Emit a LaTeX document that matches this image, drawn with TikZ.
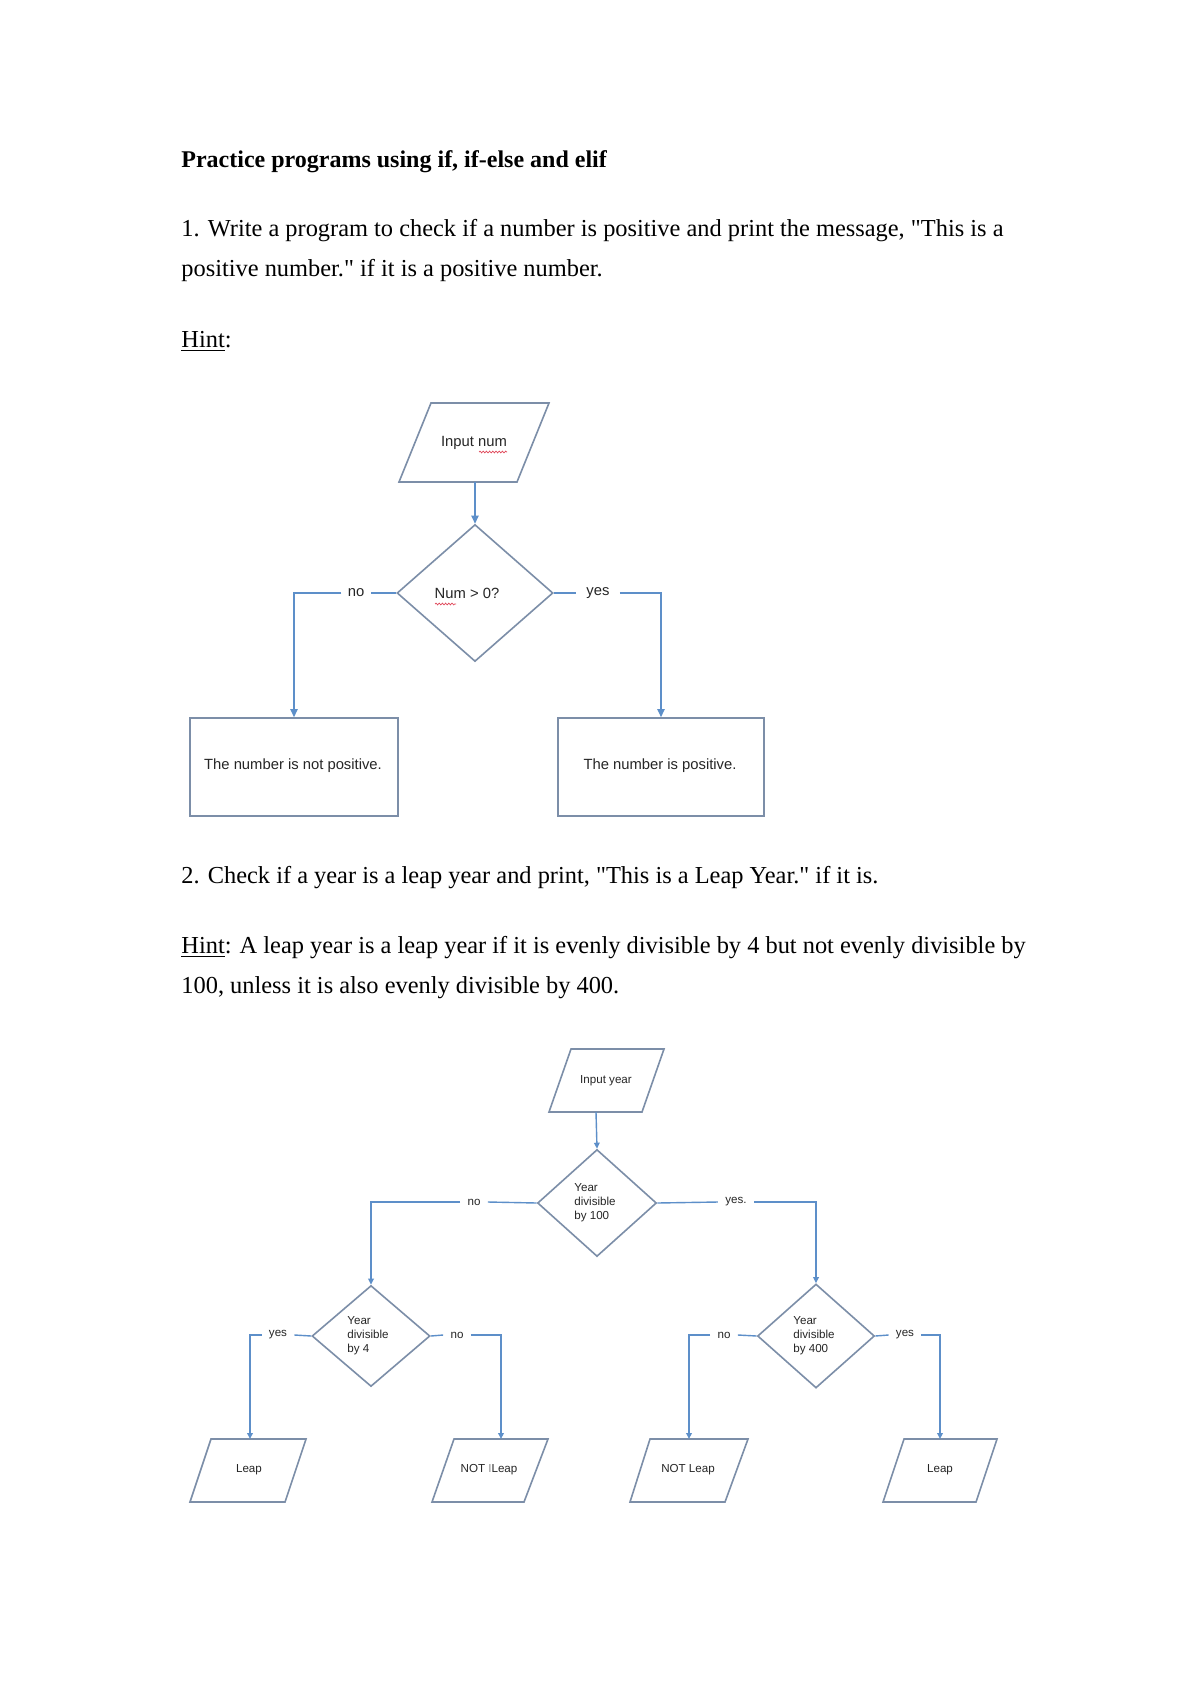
\documentclass[tikz,border=0pt]{standalone}
\usepackage{fontspec}
\setmainfont{Liberation Serif}[Ligatures=TeXOff]
\newfontfamily\flowfont{Liberation Sans}
\usetikzlibrary{shapes.geometric,arrows.meta,decorations.pathmorphing}
\definecolor{connc}{HTML}{5D8FC9}
\definecolor{shapec}{HTML}{7C8EA8}
\definecolor{squigc}{HTML}{E0485A}
\tikzset{
  connline/.style={draw=connc, line width=0.7pt},
  arrline/.style={connline, -{Triangle[length=4pt,width=3.6pt]}},
  arrsmall/.style={connline, -{Triangle[length=3pt,width=2.8pt]}},
  shp/.style={draw=shapec, line width=0.8pt, fill=white},
  bodytext/.style={anchor=base west, inner sep=0pt, font=\fontsize{12.2}{14}\selectfont},
  titletext/.style={anchor=base west, inner sep=0pt, font=\fontsize{12}{14}\selectfont\bfseries},
  flowA/.style={font=\flowfont\fontsize{7.4}{9}\selectfont, text=black!85},
  flowB/.style={font=\flowfont\fontsize{5.8}{7}\selectfont, text=black!85},
  lblA/.style={flowA, inner ysep=0pt, inner xsep=3pt},
  lblB/.style={flowB, inner ysep=0pt, inner xsep=3.5pt},
  diam/.style={shp, diamond, inner sep=0pt},
  procbox/.style={shp, rectangle, inner sep=0pt},
  squig/.style={draw=squigc, line width=0.35pt, decorate,
    decoration={snake, amplitude=0.45pt, segment length=1.6pt}},
}
\begin{document}
\begin{tikzpicture}[x=0.5pt,y=-0.5pt]
\useasboundingbox (0,0) rectangle (1200,1696);
\fill[white] (0,0) rectangle (1200,1696);

% ---------- texts, part 1
\node[titletext] (title) at (181,168) {Practice programs using if, if-else and elif};
\node[bodytext] (q1a) at (181,236) {1. Write a program to check if a number is positive and print the message, "This is a};
\node[bodytext] (q1b) at (181,277) {positive number." if it is a positive number.};
\node[bodytext] (hint1) at (181,347) {\underline{Hint}:};

% ---------- flowchart 1
\draw[shp] (431,403) -- (549,403) -- (517,482) -- (399,482) -- cycle;
\node[flowA] (in1) at (474,443) {Input num};
\coordinate (in1b) at (475,482);
\draw[squig] (479,452) -- (507,452);

\node[diam, minimum width=78pt, minimum height=68.5pt] (d1) at (475,593) {};
\node[flowA] (d1t) at (467,593) {Num > 0?};
\draw[squig] (435,604) -- (456,604);

\node[procbox, minimum width=104pt, minimum height=49pt] (box1) at (294,767) {};
\node[flowA] (box1t) at (293,766) {The number is not positive.};
\node[procbox, minimum width=103pt, minimum height=49pt] (box2) at (661,767) {};
\node[flowA] (box2t) at (660,766) {The number is positive.};

\node[lblA] (no1) at (356,593) {no};
\node[lblA, inner xsep=5pt] (yes1) at (598,593) {yes};

\draw[arrline] (in1b) -- (d1.north);
\draw[connline] (d1.west) -- (no1.east);
\draw[arrline] (no1.west) -| (box1.north);
\draw[connline] (d1.east) -- (yes1.west);
\draw[arrline] (yes1.east) -| (box2.north);

% ---------- texts, part 2
\node[bodytext] (q2) at (181,883) {2. Check if a year is a leap year and print, "This is a Leap Year." if it is.};
\node[bodytext] (hint2a) at (181,953) {\underline{Hint}: A leap year is a leap year if it is evenly divisible by 4 but not evenly divisible by};
\node[bodytext] (hint2b) at (181,993) {100, unless it is also evenly divisible by 400.};

% ---------- flowchart 2
\draw[shp] (571,1049) -- (664,1049) -- (642,1112) -- (549,1112) -- cycle;
\node[flowB] (in2) at (606,1081) {Input year};
\coordinate (in2b) at (596,1112);

\node[diam, minimum width=59.5pt, minimum height=53.5pt] (d2) at (597,1203) {};
\node[flowB, align=left] (d2t) at (595,1203) {Year\\divisible\\by 100};

\node[diam, minimum width=59pt, minimum height=50.5pt] (d3) at (371,1336) {};
\node[flowB, align=left] (d3t) at (368,1336) {Year\\divisible\\by 4};

\node[diam, minimum width=58.5pt, minimum height=52pt] (d4) at (816,1336) {};
\node[flowB, align=left] (d4t) at (814,1336) {Year\\divisible\\by 400};

\node[lblB] (no2) at (474,1202) {no};
\node[lblB] (yes2) at (736,1202) {yes.};
\node[lblB] (yes3) at (278,1335) {yes};
\node[lblB] (no3) at (457,1335) {no};
\node[lblB] (no4) at (724,1335) {no};
\node[lblB] (yes4) at (905,1335) {yes};

% output parallelograms
\draw[shp] (211,1439) -- (306,1439) -- (285,1502) -- (190,1502) -- cycle;
\node[flowB] (p1) at (249,1470) {Leap};
\coordinate (p1t) at (250,1439);
\draw[shp] (454,1439) -- (548,1439) -- (524,1502) -- (432,1502) -- cycle;
\node[flowB] (p2) at (489,1470) {NOT \textcolor{black!45}{I}Leap};
\coordinate (p2t) at (501,1439);
\draw[shp] (650,1439) -- (748,1439) -- (725,1502) -- (630,1502) -- cycle;
\node[flowB] (p3) at (688,1470) {NOT Leap};
\coordinate (p3t) at (689,1439);
\draw[shp] (904,1439) -- (997,1439) -- (976,1502) -- (883,1502) -- cycle;
\node[flowB] (p4) at (940,1470) {Leap};
\coordinate (p4t) at (940,1439);

\draw[arrsmall] (in2b) -- (d2.north);
\draw[connline] (d2.west) -- (no2.east);
\draw[arrsmall] (no2.west) -| (d3.north);
\draw[connline] (d2.east) -- (yes2.west);
\draw[arrsmall] (yes2.east) -| (d4.north);

\draw[connline] (d3.west) -- (yes3.east);
\draw[arrsmall] (yes3.west) -| (p1t);
\draw[connline] (d3.east) -- (no3.west);
\draw[arrsmall] (no3.east) -| (p2t);

\draw[connline] (d4.west) -- (no4.east);
\draw[arrsmall] (no4.west) -| (p3t);
\draw[connline] (d4.east) -- (yes4.west);
\draw[arrsmall] (yes4.east) -| (p4t);
\end{tikzpicture}
\end{document}
